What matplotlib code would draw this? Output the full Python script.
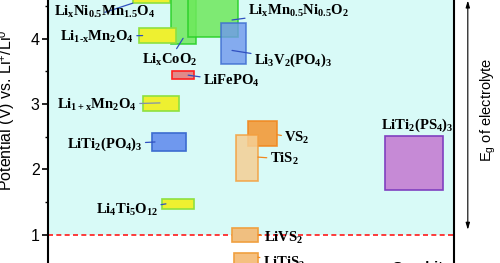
import matplotlib
matplotlib.use('Agg')
import matplotlib.pyplot as plt
from matplotlib.patches import Rectangle

# 書式 (ラベルは太字のセリフ体、軸はサンセリフ体)
plt.rcParams['font.family'] = ['Liberation Sans', 'DejaVu Sans']
plt.rcParams['mathtext.fontset'] = 'custom'
plt.rcParams['mathtext.rm'] = 'Liberation Serif:bold'
plt.rcParams['mathtext.it'] = 'Liberation Serif:bold'
plt.rcParams['mathtext.bf'] = 'Liberation Serif:bold'
plt.rcParams['mathtext.sf'] = 'Liberation Sans'

#%%

# 電極材料ごとの電位範囲 (V vs. Li+/Li0) と横位置 (任意単位)
names = ['LixNi0.5Mn1.5O4', 'LixCoO2', 'LixMn0.5Ni0.5O2', 'Li3V2(PO4)3',
         'Li1-xMn2O4', 'LiFePO4', 'Li1+xMn2O4', 'LiTi2(PO4)3', 'Li4Ti5O12',
         'VS2', 'TiS2', 'LiVS2', 'LiTiS2', 'LiTi2(PS4)3']
x_left = [2.09, 3.03, 3.45, 4.26, 2.24, 3.05, 2.34, 2.56, 2.81,
          4.93, 4.63, 4.53, 4.58, 8.30]
x_right = [3.00, 3.65, 4.68, 4.88, 3.15, 3.60, 3.23, 3.40, 3.60,
           5.64, 5.17, 5.17, 5.17, 9.73]
v_low = [4.54, 3.92, 4.02, 3.61, 3.93, 3.38, 2.89, 2.28, 1.40,
         2.36, 1.82, 0.89, 0.50, 1.69]
v_high = [4.75, 4.75, 4.75, 4.24, 4.16, 3.50, 3.12, 2.56, 1.55,
          2.74, 2.53, 1.11, 0.73, 2.51]

# 表示用のラベル
labels = [r'$\mathrm{Li_xNi_{0.5}Mn_{1.5}O_4}$', r'$\mathrm{Li_xCoO_2}$',
          r'$\mathrm{Li_xMn_{0.5}Ni_{0.5}O_2}$', r'$\mathrm{Li_3V_2(PO_4)_3}$',
          r'$\mathrm{Li_{1\text{-}x}Mn_2O_4}$', r'$\mathrm{LiFePO_4}$',
          r'$\mathrm{Li_{1+x}Mn_2O_4}$', r'$\mathrm{LiTi_2(PO_4)_3}$',
          r'$\mathrm{Li_4Ti_5O_{12}}$', r'$\mathrm{VS_2}$', r'$\mathrm{TiS_2}$',
          r'$\mathrm{LiVS_2}$', r'$\mathrm{LiTiS_2}$', r'$\mathrm{LiTi_2(PS_4)_3}$']

# 電解質の安定窓と還元側の境界
eg_top = 4.58
eg_bottom = 1.08
limit_v = 1.0

#%%

# レイアウトと色
label_xy = [(1.40, 4.40), (3.00, 3.68), (6.16, 4.42), (6.03, 3.67),
            (1.21, 4.03), (4.51, 3.35), (1.21, 2.99), (1.40, 2.38),
            (1.95, 1.38), (6.13, 2.48), (5.81, 2.16), (5.81, 0.96),
            (5.81, 0.58), (9.09, 2.68)]
anchor = [(0.0, 0.0), (0.48, 0.1), (0.88, 0.36), (0.44, 0.33),
          (0.1, 0.5), (0.73, 0.5), (0.47, 0.55), (0.09, 0.5),
          (0.12, 0.5), (1.0, 0.45), (1.0, 0.52), (1.0, 0.5),
          (1.0, 0.7), None]
face = ['#eef030', '#6ee85c', '#6ee85c', '#6f98ee', '#eef030', '#e08a8a',
        '#eef030', '#6f98ee', '#eef030', '#f39a38', '#f5cf95', '#f0bf80',
        '#f5c080', '#c68ad6']
edge = ['#8ee040', '#28d028', '#28d028', '#3c6cd0', '#8ee040', '#ff2020',
        '#8ee040', '#3c6cd0', '#8ee040', '#f08820', '#f4a040', '#f0a040',
        '#f0a040', '#8040c0']
alpha = [1, 0.85, 0.85, 0.8, 1, 1, 1, 1, 1, 0.9, 0.85, 1, 1, 1]
lead = ['#3050c0'] * 6 + ['#8090b0', '#3050c0', '#3050c0'] + ['#f08820'] * 4 + [None]

fig = plt.figure(figsize=(5, 2.63), dpi=100)
ax = fig.add_axes([0.096, 0, 0.812, 1])
ax.set_xlim(0, 10)
ax.set_ylim(0.572, 4.588)

# 電解質が安定な領域
ax.axhspan(limit_v, 6, color='#d8faf7', zorder=0, lw=0)
ax.axhline(limit_v, color='#ff1a1a', ls=(0, (3, 2)), lw=1.2, zorder=1)

for i in range(len(names)):
    w = x_right[i] - x_left[i]
    h = v_high[i] - v_low[i]
    ax.add_patch(Rectangle((x_left[i], v_low[i]), w, h, facecolor=face[i],
                           edgecolor=edge[i], lw=1.2, alpha=alpha[i], zorder=2 + i * 0.01))
    if anchor[i] is None:
        ax.text(label_xy[i][0], label_xy[i][1], labels[i], fontsize=10.5,
                ha='center', va='center', zorder=5)
        continue
    ax_pt = (x_left[i] + anchor[i][0] * w, v_low[i] + anchor[i][1] * h)
    ax.annotate(labels[i], xy=ax_pt, xytext=label_xy[i], fontsize=10.5,
                ha='center', va='center', zorder=5, annotation_clip=False,
                arrowprops=dict(arrowstyle='-', color=lead[i], lw=0.9,
                                shrinkA=0, shrinkB=0))

ax.text(9.21, 0.50, 'Graphite', fontsize=10.5, fontweight='bold',
        ha='center', va='center', zorder=5)

# 軸の体裁
ax.spines['top'].set_visible(False)
ax.spines['bottom'].set_visible(False)
ax.spines['left'].set_linewidth(1.5)
ax.spines['right'].set_linewidth(1.5)
ax.set_xticks([])
ax.set_yticks([1, 2, 3, 4])
ax.set_yticks([1.5, 2.5, 3.5, 4.5], minor=True)
ax.tick_params(axis='y', which='major', direction='out', length=4, width=1.2,
               labelsize=11.5, pad=2)
ax.tick_params(axis='y', which='minor', direction='out', length=2.5, width=1)
ax.set_ylabel(r'Potential (V) vs. Li$^{\mathsf{+}}$/Li$^{\mathsf{0}}$', fontsize=11.5)
ax.yaxis.set_label_coords(-0.077, 0.58)

# 電解質のバンドギャップを示す矢印
ax.annotate('', xy=(1.034, eg_bottom), xytext=(1.034, eg_top),
            xycoords=('axes fraction', 'data'), textcoords=('axes fraction', 'data'),
            annotation_clip=False,
            arrowprops=dict(arrowstyle='<|-|>,head_length=0.4,head_width=0.12',
                            color='black', lw=0.8, shrinkA=0, shrinkB=0))
fig.text(488 / 500, 1 - 110 / 263, r'E$_{\mathsf{g}}$ of electrolyte',
         rotation=90, fontsize=10.5, ha='center', va='center')

plt.savefig('out.png', dpi=100)
